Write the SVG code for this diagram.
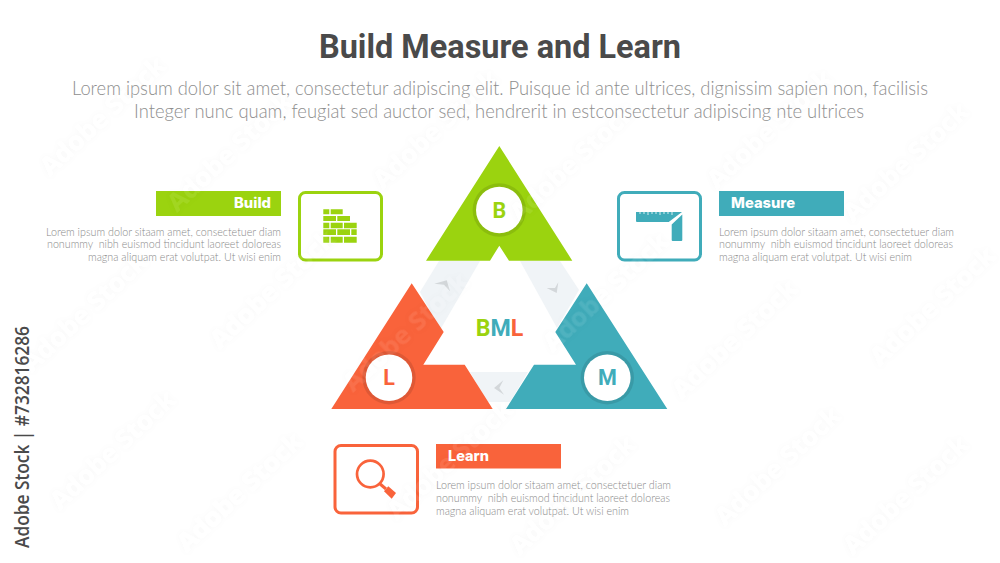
<svg xmlns="http://www.w3.org/2000/svg" width="1000" height="563" viewBox="0 0 1000 563">
<defs>
<style>
.title{font:700 33px Roboto,"Liberation Sans",sans-serif;fill:#4a4a4a}
.sub{font:300 19px Lato,"Liberation Sans",sans-serif;fill:#8e8e8e}
.body{font:300 10.8px Lato,"Liberation Sans",sans-serif;fill:#8a8a8a;white-space:pre}
.lab{font:800 14.5px Inter,"Open Sans",sans-serif;fill:#fff}
.let{font:700 21.5px Roboto,"Liberation Sans",sans-serif;text-anchor:middle}
.band{fill:#f0f4f7}
.chev{fill:#d3d7da}
.ring{fill:#000;fill-opacity:.1}
.disc{fill:#fff}
.box{fill:#fff;stroke-width:3}
.wm{font:700 25px "Open Sans",sans-serif;fill:#fff}
.g{fill:#9bd30f}.t{fill:#40acba}.r{fill:#f9633b}
</style>
<filter id="halo" filterUnits="userSpaceOnUse" x="0" y="0" width="1000" height="563">
<feGaussianBlur in="SourceAlpha" stdDeviation="3" result="b"/>
<feComposite in="b" in2="SourceAlpha" operator="out" result="ring"/>
<feColorMatrix in="ring" type="matrix" values="0 0 0 0 0 0 0 0 0 0 0 0 0 0 0 0 0 0 .03 0" result="h"/>
<feFlood flood-color="#fff" flood-opacity=".08"/>
<feComposite in2="SourceAlpha" operator="in" result="core"/>
<feMerge><feMergeNode in="h"/><feMergeNode in="core"/></feMerge>
</filter>
</defs>
<rect width="1000" height="563" fill="#fff"/>
<g id="title">
<text class="title" x="500" y="58" text-anchor="middle" textLength="362" lengthAdjust="spacingAndGlyphs">Build Measure and Learn</text>
<text class="sub" x="500" y="95" text-anchor="middle" textLength="856" lengthAdjust="spacingAndGlyphs">Lorem ipsum dolor sit amet, consectetur adipiscing elit. Puisque id ante ultrices, dignissim sapien non, facilisis</text>
<text class="sub" x="499" y="118" text-anchor="middle" textLength="730" lengthAdjust="spacingAndGlyphs">Integer nunc quam, feugiat sed auctor sed, hendrerit in estconsectetur adipiscing nte ultrices</text>
</g>
<g id="connectors">
<polygon class="band" points="439,261 480,261 440,330 420,292"/>
<polygon class="band" points="520,261 560,261 579,290 557,328"/>
<polygon class="band" points="470,372 528,372 510,402 487,402"/>
<path class="chev" d="M434.300 283.700 L446.700 280.300 L450 291.300 L444 284.700 Z"/>
<path class="chev" d="M546.700 288 L555 288 L558.300 282.300 L556.700 293 Z"/>
<path class="chev" d="M503.300 380.300 L494 388 L504 394.700 L499.300 388 Z"/>
</g>
<g id="node-build">
<path class="g" d="M499.300 146 L572.300 260.700 H509 L499.300 245.700 L490 260.700 H426 Z"/>
<circle class="ring" cx="499.300" cy="210" r="26.700"/>
<circle class="disc" cx="499.300" cy="210" r="23.300"/>
<text class="let g" x="499.300" y="217.500">B</text>
<rect class="g" x="156" y="191" width="125" height="25"/>
<text class="lab" x="271" y="208" text-anchor="end" textLength="37" lengthAdjust="spacingAndGlyphs">Build</text>
<rect class="box" x="299.500" y="192.500" width="82" height="67.500" rx="6" stroke="#9bd30f"/>
<path class="g" d="M323.300 209.300h6v5h-6zM330.700 209.300h12v5h-12zM323.300 216h12.700v5h-12.700zM337.300 216h12.700v5h-12.700zM323.300 222.700h6v5.500h-6zM330.700 222.700h12v5.500h-12zM344 222.700h12.700v5.500h-12.700zM323.300 229.300h12.700v5.700h-12.700zM337.300 229.300h12.700v5.700h-12.700zM351.300 229.300h5.400v5.700h-5.400zM323.300 236.700h6v6h-6zM330.700 236.700h12v6h-12zM344 236.700h12.700v6h-12.700z"/>
<text class="body" x="281" y="235.500" text-anchor="end" textLength="235" lengthAdjust="spacingAndGlyphs">Lorem ipsum dolor sitaam amet, consectetuer diam</text>
<text class="body" x="281" y="248" text-anchor="end" textLength="234" lengthAdjust="spacingAndGlyphs">nonummy  nibh euismod tincidunt laoreet doloreas</text>
<text class="body" x="281" y="261" text-anchor="end" textLength="193" lengthAdjust="spacingAndGlyphs">magna aliquam erat volutpat. Ut wisi enim</text>
</g>
<g id="node-measure">
<path class="t" d="M586.700 283.300 L667.300 409 H506 L534 364.700 H576 L555.300 332 Z"/>
<circle class="ring" cx="607.300" cy="377.700" r="26.700"/>
<circle class="disc" cx="607.300" cy="377.700" r="23.300"/>
<text class="let t" x="607.300" y="385">M</text>
<rect class="t" x="719" y="191" width="125" height="25"/>
<text class="lab" x="731" y="208" textLength="64" lengthAdjust="spacingAndGlyphs">Measure</text>
<rect class="box" x="618.500" y="192.500" width="82" height="67.500" rx="6" stroke="#40acba"/>
<path class="t" d="M636 212 H682 L668.700 222 H637 Q636 222 636 221 ZM671.700 224.500 L682.300 214.500 V240 Q682.300 241 681.300 241 H672.700 Q671.700 241 671.700 240 Z"/>
<path d="M640 212v2M644 212v2M648 212v3M652 212v2M656 212v2M660 212v3M664 212v2M668 212v2M672 212v3" stroke="#fff" stroke-width=".8" fill="none"/>
<text class="body" x="719" y="235.500" textLength="235" lengthAdjust="spacingAndGlyphs">Lorem ipsum dolor sitaam amet, consectetuer diam</text>
<text class="body" x="719" y="248" textLength="234" lengthAdjust="spacingAndGlyphs">nonummy  nibh euismod tincidunt laoreet doloreas</text>
<text class="body" x="719" y="261" textLength="193" lengthAdjust="spacingAndGlyphs">magna aliquam erat volutpat. Ut wisi enim</text>
</g>
<g id="node-learn">
<path class="r" d="M411.700 283.300 L443.700 332 L423.300 364.700 H464.700 L492.700 409 H331.300 Z"/>
<circle class="ring" cx="389" cy="377.700" r="26.700"/>
<circle class="disc" cx="389" cy="377.700" r="23.300"/>
<text class="let r" x="389" y="385">L</text>
<rect class="r" x="436" y="444" width="125" height="24.500"/>
<text class="lab" x="448" y="461" textLength="41" lengthAdjust="spacingAndGlyphs">Learn</text>
<rect class="box" x="335" y="445.500" width="82.500" height="67.500" rx="6" stroke="#f9633b"/>
<circle cx="370.300" cy="474" r="13.300" fill="none" stroke="#f9633b" stroke-width="2.700"/>
<path d="M379.500 483.500 L386 489" stroke="#f9633b" stroke-width="3" fill="none"/>
<path class="r" d="M388.300 486.300 L396 493 L391.700 498.700 L384 491.300 Z"/>
<text class="body" x="436" y="489" textLength="235" lengthAdjust="spacingAndGlyphs">Lorem ipsum dolor sitaam amet, consectetuer diam</text>
<text class="body" x="436" y="502" textLength="234" lengthAdjust="spacingAndGlyphs">nonummy  nibh euismod tincidunt laoreet doloreas</text>
<text class="body" x="436" y="514.500" textLength="193" lengthAdjust="spacingAndGlyphs">magna aliquam erat volutpat. Ut wisi enim</text>
</g>
<g id="node-center">
<text x="499.500" y="336.300" text-anchor="middle" textLength="47.600" lengthAdjust="spacingAndGlyphs" style="font:700 24.500px Roboto,'Liberation Sans',sans-serif"><tspan class="g">B</tspan><tspan class="t">M</tspan><tspan class="r">L</tspan></text>
</g>
<text transform="translate(29 548) rotate(-90)" textLength="222" lengthAdjust="spacingAndGlyphs" style="font:600 19px 'Open Sans',sans-serif;fill:#4a4a4a">Adobe Stock | #732816286</text>
<g id="watermark" filter="url(#halo)">
<text class="wm" transform="translate(50 177) rotate(-43)" textLength="160" lengthAdjust="spacingAndGlyphs">Adobe Stock</text>
<text class="wm" transform="translate(177 213) rotate(-43)" textLength="160" lengthAdjust="spacingAndGlyphs">Adobe Stock</text>
<text class="wm" transform="translate(383 190) rotate(-43)" textLength="160" lengthAdjust="spacingAndGlyphs">Adobe Stock</text>
<text class="wm" transform="translate(520 223) rotate(-43)" textLength="160" lengthAdjust="spacingAndGlyphs">Adobe Stock</text>
<text class="wm" transform="translate(717 190) rotate(-43)" textLength="160" lengthAdjust="spacingAndGlyphs">Adobe Stock</text>
<text class="wm" transform="translate(853 223) rotate(-43)" textLength="160" lengthAdjust="spacingAndGlyphs">Adobe Stock</text>
<text class="wm" transform="translate(32 373) rotate(-43)" textLength="160" lengthAdjust="spacingAndGlyphs">Adobe Stock</text>
<text class="wm" transform="translate(220 350) rotate(-43)" textLength="160" lengthAdjust="spacingAndGlyphs">Adobe Stock</text>
<text class="wm" transform="translate(60 511) rotate(-43)" textLength="160" lengthAdjust="spacingAndGlyphs">Adobe Stock</text>
<text class="wm" transform="translate(187 553) rotate(-43)" textLength="160" lengthAdjust="spacingAndGlyphs">Adobe Stock</text>
<text class="wm" transform="translate(353 393) rotate(-43)" textLength="160" lengthAdjust="spacingAndGlyphs">Adobe Stock</text>
<text class="wm" transform="translate(553 353) rotate(-43)" textLength="160" lengthAdjust="spacingAndGlyphs">Adobe Stock</text>
<text class="wm" transform="translate(397 521) rotate(-43)" textLength="160" lengthAdjust="spacingAndGlyphs">Adobe Stock</text>
<text class="wm" transform="translate(520 556) rotate(-43)" textLength="160" lengthAdjust="spacingAndGlyphs">Adobe Stock</text>
<text class="wm" transform="translate(682 400) rotate(-43)" textLength="160" lengthAdjust="spacingAndGlyphs">Adobe Stock</text>
<text class="wm" transform="translate(880 367) rotate(-43)" textLength="160" lengthAdjust="spacingAndGlyphs">Adobe Stock</text>
<text class="wm" transform="translate(725 527) rotate(-43)" textLength="160" lengthAdjust="spacingAndGlyphs">Adobe Stock</text>
<text class="wm" transform="translate(853 556) rotate(-43)" textLength="160" lengthAdjust="spacingAndGlyphs">Adobe Stock</text>
</g>
</svg>
